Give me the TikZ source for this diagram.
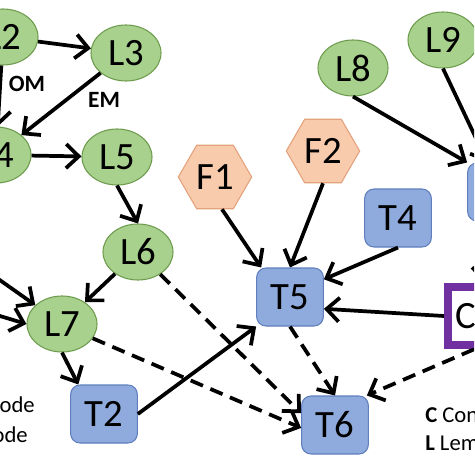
\documentclass[tikz,border=0pt]{standalone}
\usepackage{fontspec}
\setmainfont{Carlito}
\usetikzlibrary{arrows.meta,shapes.geometric,calc}
\definecolor{lgreen}{HTML}{A9D18E}
\definecolor{dgreen}{HTML}{6E9C4E}
\definecolor{lblue}{HTML}{8FAADC}
\definecolor{dblue}{HTML}{5F7FBE}
\definecolor{peach}{HTML}{F8CBAD}
\definecolor{dpeach}{HTML}{E3A27C}
\definecolor{purp}{HTML}{7030A0}
\begin{document}
\begin{tikzpicture}[x=0.75pt,y=-0.75pt,
  nodefont/.style={font=\fontsize{29}{32}\selectfont},
  lemma/.style={ellipse, draw=dgreen, line width=0.8pt, fill=lgreen, minimum width=52.5pt, minimum height=42pt, inner sep=0pt, nodefont},
  thm/.style={rectangle, rounded corners=7pt, draw=dblue, line width=0.8pt, fill=lblue, minimum width=50pt, minimum height=43.5pt, inner sep=0pt, nodefont},
  fact/.style={regular polygon, regular polygon sides=6, draw=dpeach, line width=0.8pt, fill=peach, minimum size=55pt, inner sep=0pt, nodefont},
  conj/.style={rectangle, draw=purp, line width=6pt, fill=white, minimum width=54pt, minimum height=44pt, inner sep=0pt, text width=43.5pt, align=left, nodefont},
  arr/.style={-{Straight Barb[length=9.5pt,width=18pt]}, line width=2.8pt},
  darr/.style={arr, dash pattern=on 10pt off 6pt},
  lbl/.style={font=\bfseries\fontsize{17.5}{20}\selectfont},
  leg/.style={font=\fontsize{17}{20}\selectfont}
]
\path[use as bounding box] (0,0) rectangle (474,474);
\clip (0,0) rectangle (474,474);
\fill[white] (0,0) rectangle (474,474);

% nodes
\node[lemma] (L2) at (3,37) {L2};
\node[lemma] (L3) at (126,53) {L3};
\node[lemma] (L4) at (-4,155) {L4};
\node[lemma] (L5) at (117,157) {L5};
\node[lemma] (L6) at (138,252) {L6};
\node[lemma] (L7) at (62,324) {L7};
\node[lemma] (L8) at (353,68) {L8};
\node[lemma] (L9) at (443,40) {L9};
\node[fact] (F1) at (215,177) {F1};
\node[fact] (F2) at (323,151) {F2};
\node[thm] (T2) at (104,414) {T2};
\node[thm] (T4) at (398,218) {T4};
\node[thm] (T5) at (290,297) {T5};
\node[thm] (T6) at (335,425) {T6};
\node[thm] (T3) at (501,192) {};
\node[conj] (C) at (484,316) {C};
\coordinate (in1) at (-30,259);
\coordinate (in2) at (-30,307);

% edge labels
\node[lbl] (om) at (27,84) {OM};
\node[lbl] (em) at (104,100) {EM};

% legends
\node[leg, anchor=base east, inner sep=0pt] (lg1) at (35,412) {ode};
\node[leg, anchor=base east, inner sep=0pt] (lg2) at (28,442) {ode};
\node[leg, anchor=base west, inner sep=0pt] (lg3) at (425,422) {\textbf{C} Conjecture};
\node[leg, anchor=base west, inner sep=0pt] (lg4) at (425,450) {\textbf{L} Lemma};

% solid edges
\draw[arr] (L2) -- (L3);
\draw[arr] (L2) -- (L4);
\draw[arr] (L3) -- (L4);
\draw[arr] (L4) -- (L5);
\draw[arr] (L5.south) -- (L6.north);
\draw[arr] (L6) -- (L7);
\draw[arr] (in1) -- (L7);
\draw[arr] (in2) -- (L7.west);
\draw[arr] (L7.south) -- ($(T2.north west)!0.12!(T2.north east)$);
\draw[arr] (T2.east) -- (T5.south west);
\draw[arr] ($(F1.south)+(7,0)$) -- ($(T5.north west)+(5,0)$);
\draw[arr] (F2.south) -- (T5.north);
\draw[arr] (T4.south) -- ($(T5.north east)!0.2!(T5.south east)$);
\draw[arr] (C.west) -- ($(T5.north east)!0.7!(T5.south east)$);
\draw[arr] (L8.south) -- (T3.north west);
\draw[arr] (L9.south) -- ($(T3.north west)!0.3!(T3.north east)$);
\draw[arr] ($(T3.south west)!0.25!(T3.south east)$) -- (C.north -| {$(T3.south west)!0.25!(T3.south east)$});

% dashed edges
\draw[darr] (L6.-45) -- ($(T6.north west)!0.3!(T6.south west)$);
\draw[darr] (L7.-25) -- ($(T6.west)!0.1!(T6.south west)$);
\draw[darr] (T5.south) -- (T6.north);
\draw[darr] ($(C.south west)!0.375!(C.south east)$) -- ($(T6.north east)+(-2,0)$);
\end{tikzpicture}
\end{document}
